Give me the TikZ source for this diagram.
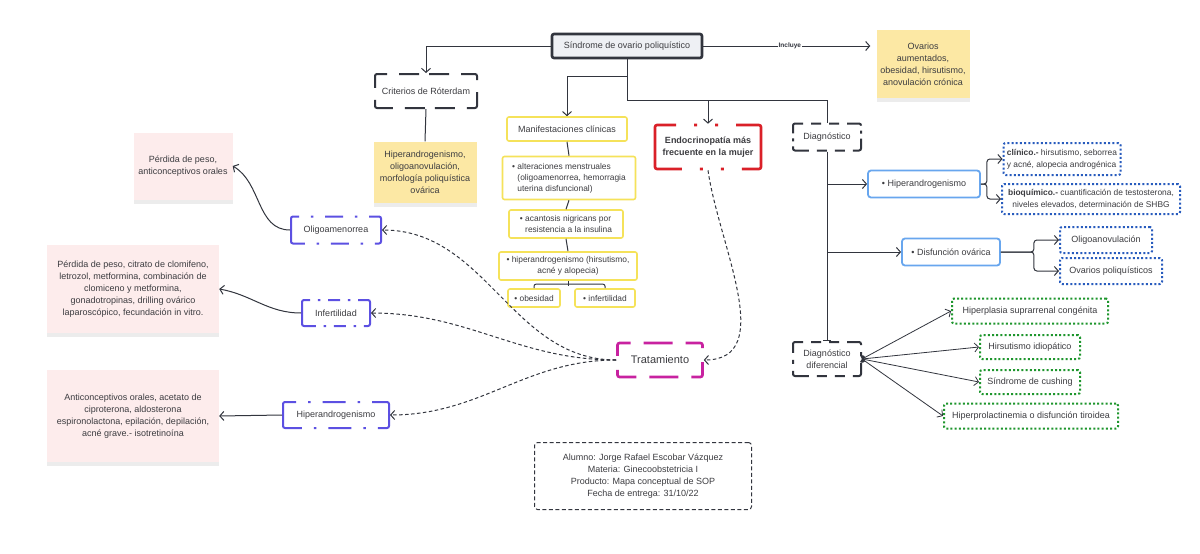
\documentclass[tikz,border=0pt]{standalone}
\usepackage{fontspec}
\setmainfont{Liberation Sans}
\usetikzlibrary{arrows.meta,shadows}

\definecolor{oscuro}{RGB}{50,53,62}
\definecolor{texto}{RGB}{60,60,64}
\definecolor{gris}{RGB}{238,240,244}
\definecolor{amarillo}{RGB}{252,232,164}
\definecolor{borde}{RGB}{245,226,90}
\definecolor{rosa}{RGB}{253,236,236}
\definecolor{rojo}{RGB}{218,32,40}
\definecolor{fucsia}{RGB}{200,34,160}
\definecolor{morado}{RGB}{92,80,226}
\definecolor{celeste}{RGB}{104,166,238}
\definecolor{azul}{RGB}{40,92,190}
\definecolor{verde}{RGB}{30,150,45}

\begin{document}
\begin{tikzpicture}[x=1pt,y=-1pt]
    \tikzset{
        base/.style={text=texto, align=center, inner sep=2pt, font=\fontsize{9}{12}\selectfont},
        principal/.style={base, draw=oscuro, fill=gris, line width=2.6pt, rounded corners=2pt, minimum width=150pt, minimum height=24pt},
        nota/.style={base, fill=amarillo, drop shadow={shadow xshift=0pt, shadow yshift=-4pt, opacity=0.15}},
        rosada/.style={base, fill=rosa, drop shadow={shadow xshift=0pt, shadow yshift=-4pt, opacity=0.15}},
        marco/.style={base, draw=oscuro, line width=2pt, rounded corners=2pt},
        caja/.style={base, draw=borde, fill=white, line width=1.6pt, rounded corners=2pt},
        item/.style={caja, font=\fontsize{8.4}{11}\selectfont},
        endo/.style={base, draw=rojo, line width=2.6pt, rounded corners=2pt, font=\fontsize{9}{12}\bfseries, dash pattern=on 90pt off 18pt on 3pt off 18pt on 3pt off 18pt, dash phase=67pt},
        trata/.style={base, draw=fucsia, line width=2.6pt, rounded corners=2pt, font=\fontsize{11}{13}\selectfont, dash pattern=on 25pt off 13pt on 29pt off 13pt on 25pt off 14pt, dash phase=10pt},
        tema/.style={base, draw=morado, line width=2pt, rounded corners=2pt},
        rama/.style={base, draw=celeste, fill=white, line width=1.8pt, rounded corners=3pt},
        punteo/.style={base, draw=azul, line width=2pt, rounded corners=2pt, dash pattern=on 2pt off 2.2pt, font=\fontsize{8.4}{12}\selectfont},
        verdes/.style={base, draw=verde, line width=2pt, rounded corners=2pt, dash pattern=on 2pt off 2.2pt},
        arc/.style={draw=oscuro, line width=1pt, -{Straight Barb[length=4pt,width=9pt]}},
        linea/.style={draw=oscuro, line width=1pt},
        punteada/.style={arc, dash pattern=on 3.5pt off 2.5pt},
        fino/.style={draw=oscuro, line width=0.8pt, {Bar[width=7pt,line width=1.6pt]}-{Straight Barb[length=4pt,width=9pt]}},
        incluye/.style={fill=white, inner sep=1pt, text=oscuro, font=\fontsize{6.5}{7}\bfseries}
    }

    \fill[white] (0,0) rectangle (1200,554);
    \useasboundingbox (0,0) rectangle (1200,554);

    % centro
    \draw node[principal] (sop) at (627,46) {Síndrome de ovario poliquístico};
    \draw node[nota, minimum width=93pt, minimum height=68pt] (ovarios) at (923,64) {Ovarios\\aumentados,\\obesidad, hirsutismo,\\anovulación crónica};
    \draw node[marco, dash pattern=on 25pt off 12pt on 20pt off 10pt on 20pt off 12pt on 25pt off 12pt, dash phase=11pt, minimum width=102pt, minimum height=34pt] (roterdam) at (426,91) {Criterios de Róterdam};
    \draw node[nota, minimum width=103pt, minimum height=61pt] (criterios) at (425,172) {Hiperandrogenismo,\\oligoanovulación,\\morfología poliquística\\ovárica};

    % manifestaciones
    \draw node[caja, minimum width=120pt, minimum height=24pt] (manif) at (567,129) {Manifestaciones clínicas};
    \draw node[item, align=left, minimum width=133pt, minimum height=43pt] (menstruales) at (569,178) {• alteraciones menstruales\\\hphantom{• }(oligoamenorrea, hemorragia\\\hphantom{• }uterina disfuncional)};
    \draw node[item, align=left, minimum width=114pt, minimum height=28pt] (acantosis) at (566,224) {• acantosis nigricans por\\\hphantom{• }resistencia a la insulina};
    \draw node[item, minimum width=138pt, minimum height=28pt] (hiperclin) at (568,266) {• hiperandrogenismo (hirsutismo,\\acné y alopecia)};
    \draw node[item, minimum width=52pt, minimum height=18pt] (obesidad) at (534,298) {• obesidad};
    \draw node[item, minimum width=60pt, minimum height=18pt] (infert) at (605,298) {• infertilidad};

    \draw node[endo, minimum width=106pt, minimum height=44pt] (endo) at (708,147) {Endocrinopatía más\\frecuente en la mujer};

    % tratamiento
    \draw node[trata, minimum width=85pt, minimum height=34pt] (tratamiento) at (660,360) {Tratamiento};
    \draw node[tema, dash pattern=on 47pt off 11.75pt on 2.5pt off 11.75pt on 18pt off 11.75pt on 2.5pt off 11.75pt, dash phase=37pt, minimum width=90pt, minimum height=27pt] (oligoamenorrea) at (336,230) {Oligoamenorrea};
    \draw node[tema, dash pattern=on 46pt off 7.75pt on 2.5pt off 7.75pt on 12pt off 7.75pt on 2.5pt off 7.75pt, dash phase=36pt, minimum width=68pt, minimum height=26pt] (infertilidad) at (336,313) {Infertilidad};
    \draw node[tema, dash pattern=on 56pt off 12pt on 2.5pt off 12pt on 23pt off 12pt on 2.5pt off 12pt, dash phase=41pt, minimum width=106pt, minimum height=26pt] (hiperandrogenismo) at (336,415) {Hiperandrogenismo};
    \draw node[rosada, minimum width=99pt, minimum height=67pt] (trataOligo) at (183,166) {Pérdida de peso,\\anticonceptivos orales};
    \draw node[rosada, minimum width=172pt, minimum height=88pt] (trataInfert) at (133,289) {Pérdida de peso, citrato de clomifeno,\\letrozol, metformina, combinación de\\clomiceno y metformina,\\gonadotropinas, drilling ovárico\\laparoscópico, fecundación in vitro.};
    \draw node[rosada, minimum width=172pt, minimum height=92pt] (trataHiper) at (133,416) {Anticonceptivos orales, acetato de\\ciproterona, aldosterona\\espironolactona, epilación, depilación,\\acné grave.- isotretinoína};

    % diagnostico
    \draw node[marco, dash pattern=on 19pt off 8pt on 10pt off 8pt on 10pt off 8pt on 19pt off 5pt on 3pt off 5pt, dash phase=7pt, minimum width=68pt, minimum height=27pt] (diag) at (827,137) {Diagnóstico};
    \draw node[rama, minimum width=112pt, minimum height=27pt] (hiperdiag) at (924,184) {• Hiperandrogenismo};
    \draw node[punteo, align=left, minimum width=117pt, minimum height=32pt] (clinico) at (1062,159) {\textbf{clínico.-} hirsutismo, seborrea\\y acné, alopecia androgénica};
    \draw node[punteo, minimum width=178pt, minimum height=30pt] (bioquimico) at (1091,199) {\textbf{bioquímico.-} cuantificación de testosterona,\\niveles elevados, determinación de SHBG};
    \draw node[rama, minimum width=98pt, minimum height=27pt] (disfuncion) at (951,252) {• Disfunción ovárica};
    \draw node[punteo, font=\fontsize{9}{12}\selectfont, minimum width=92pt, minimum height=26pt] (oligoanov) at (1106,240) {Oligoanovulación};
    \draw node[punteo, font=\fontsize{9}{12}\selectfont, minimum width=102pt, minimum height=26pt] (poliquisticos) at (1111,271) {Ovarios poliquísticos};
    \draw node[marco, dash pattern=on 20pt off 8pt on 10pt off 8pt on 10pt off 8pt on 20pt off 7pt on 4pt off 7pt, dash phase=8pt, minimum width=68pt, minimum height=34pt] (difer) at (827,359) {Diagnóstico\\diferencial};
    \draw node[verdes, minimum width=156pt, minimum height=25pt] (hiperplasia) at (1030,311) {Hiperplasia suprarrenal congénita};
    \draw node[verdes, minimum width=100pt, minimum height=24pt] (idiopatico) at (1030,347) {Hirsutismo idiopático};
    \draw node[verdes, minimum width=100pt, minimum height=24pt] (cushing) at (1030,382) {Síndrome de cushing};
    \draw node[verdes, minimum width=174pt, minimum height=25pt] (prolactina) at (1031,416) {Hiperprolactinemia o disfunción tiroidea};

    \draw node[base, draw=oscuro, line width=1pt, rounded corners=3pt, dash pattern=on 4pt off 2.5pt, minimum width=217pt, minimum height=67pt] (datos) at (643,476) {Alumno: Jorge Rafael Escobar Vázquez\\Materia: Ginecoobstetricia I\\Producto: Mapa conceptual de SOP\\Fecha de entrega: 31/10/22};

    % conectores
    \draw[arc] (sop.west) -| (roterdam.north);
    \draw[linea] (roterdam.south) -- (criterios.north);
    \draw[arc] (sop.south) -- ++(0,17) -| (manif.north);
    \draw[linea] (sop.south) -- ++(0,41) coordinate (ramal) -| (diag.north);
    \draw[arc] (ramal -| endo.north) -- (endo.north);
    \draw[arc, shorten >=6pt] (sop.east) -- node[incluye] {Incluye} (sop.east -| ovarios.west);
    \foreach \x/\y in {%
        manif/menstruales, menstruales/acantosis, acantosis/hiperclin%
    }{
    \draw[linea] (\x.south) -- (\y.north);
    }
    \draw[linea] (hiperclin.south) -- ++(0,5);
    \draw[linea, rounded corners=2pt] (obesidad.north) -- ++(0,-4) -| (infert.north);

    \draw[punteada] (endo.south) to[out=-82,in=0] (tratamiento.east);
    \foreach \y in {oligoamenorrea, infertilidad, hiperandrogenismo}{
    \draw[punteada] (tratamiento.west) to[out=180,in=0] (\y.east);
    }
    \draw[arc] (oligoamenorrea.west) to[out=180,in=-30] (trataOligo.east);
    \draw[arc] (infertilidad.west) to[out=180,in=-10] (trataInfert.east);
    \draw[arc] (hiperandrogenismo.west) -- (trataHiper.east);

    \draw[linea, -{Bar[width=8pt]}] (diag.south) -- (difer.north);
    \draw[arc] (diag.south |- hiperdiag.west) -- (hiperdiag.west);
    \draw[arc] (diag.south |- disfuncion.west) -- (disfuncion.west);
    \draw[arc, rounded corners=3pt] (hiperdiag.east) -- ++(6,0) |- (clinico.west);
    \draw[arc, rounded corners=3pt] (hiperdiag.east) -- ++(6,0) |- (bioquimico.west);
    \draw[arc, rounded corners=3pt] (disfuncion.east) -- ++(33,0) |- (oligoanov.west);
    \draw[arc, rounded corners=3pt] (disfuncion.east) -- ++(33,0) |- (poliquisticos.west);
    \foreach \y in {hiperplasia, idiopatico, cushing, prolactina}{
    \draw[fino] (difer.east) -- (\y.west);
    }
\end{tikzpicture}
\end{document}
